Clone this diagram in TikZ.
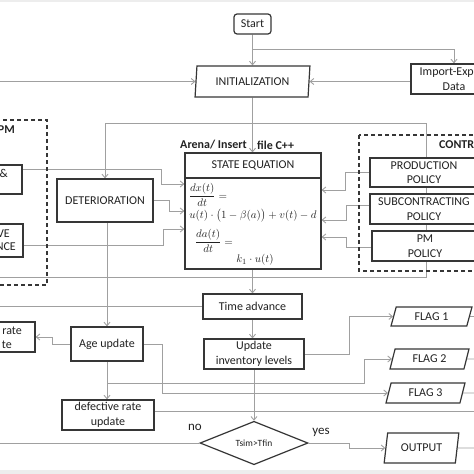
\documentclass[tikz,border=0pt]{standalone}
\usepackage{amsmath}
\usepackage{fontspec}
\setmainfont{Carlito}
\usetikzlibrary{shapes.geometric,arrows.meta}
\pgfdeclarelayer{bg}
\pgfsetlayers{bg,main}
\definecolor{boxc}{HTML}{363636}
\definecolor{linec}{HTML}{A0A0A0}
\definecolor{txtc}{HTML}{222222}
\definecolor{stripc}{HTML}{EDEDED}
\newcommand\fsA{\fontsize{12}{14.5}\selectfont}
\begin{document}
\begin{tikzpicture}[x=1pt,y=-1pt,
  bx/.style={draw=boxc, line width=1.2pt, fill=white, text=txtc, align=center, inner sep=0pt, font=\fsA},
  para/.style={bx, trapezium, trapezium stretches=true},
  txt/.style={text=txtc, inner sep=0pt, font=\fsA},
  btxt/.style={text=txtc, inner sep=0pt, font=\fsA\bfseries},
  eqf/.style={text=txtc, inner sep=0pt, font=\fontsize{10.5}{12}\selectfont},
  dbox/.style={draw=boxc, line width=1.2pt, dash pattern=on 4pt off 3pt},
  ln/.style={draw=linec, line width=0.9pt},
  arr/.style={ln, -{Straight Barb[length=3.5pt,width=6pt]}}]
\useasboundingbox (0,0) rectangle (474,474);
\clip (0,0) rectangle (474,474);
\fill[stripc] (0,0) rectangle (474,2);
\fill[stripc] (0,470) rectangle (474,474);

% dashed group boxes
\draw[dbox] (-10,120) rectangle (47,285);
\draw[dbox] (359,135) rectangle (490,271);
\node[btxt, anchor=east] (pmlab) at (15,130) {PM};
\node[btxt, anchor=west] (ctrllab) at (439,145) {CONTROL};

% top
\node[bx, rounded corners=3pt, minimum width=37pt, minimum height=20pt] (start) at (252.5,24) {Start};
\node[para, trapezium left angle=81, trapezium right angle=99, minimum width=115pt, minimum height=31pt] (init) at (252.5,81.5) {INITIALIZATION};
\node[bx, minimum width=86pt, minimum height=30pt] (imp) at (454,79) {Import-Export\\Data};

% left partial boxes
\node[bx, minimum width=80pt, minimum height=29pt] (pmA) at (-18,179.5) {};
\node[bx, minimum width=80pt, minimum height=33pt] (pmB) at (-17,240.5) {};
\node[bx, minimum width=80pt, minimum height=30pt] (ltb) at (-5,337) {};
\node[txt, anchor=east] (pmAt) at (8,173) {\&};
\node[txt, anchor=east] (pmBt1) at (10,234) {VE};
\node[txt, anchor=east] (pmBt2) at (16,247) {NCE};
\node[txt, anchor=east] (ltbt1) at (22,331) {rate};
\node[txt, anchor=east] (ltbt2) at (12,345) {te};

% middle
\node[bx, minimum width=96pt, minimum height=43pt] (det) at (105,200.5) {DETERIORATION};
\node[bx, minimum width=136pt, minimum height=116pt] (se) at (253,211) {};
\node[bx, minimum width=136pt, minimum height=25pt, anchor=north] (seT) at (se.north) {STATE EQUATION};
\node[btxt, anchor=east] (ar1) at (247,145) {Arena/ Insert};
\node[btxt, anchor=west] (ar2) at (257,145) {file C++};
\node[eqf] (eq1) at (208,195) {$\dfrac{dx(t)}{dt}=$};
\node[eqf, font=\fontsize{11}{12}\selectfont] (eq2) at (253,216) {$u(t)\cdot\bigl(1-\beta(a)\bigr)+v(t)-d$};
\node[eqf] (eq3) at (214,241) {$\dfrac{da(t)}{dt}=$};
\node[eqf, font=\fontsize{11}{12}\selectfont] (eq4) at (255,260) {$k_1\cdot u(t)$};

\node[bx, minimum width=108pt, minimum height=29pt] (prod) at (424,172.5) {PRODUCTION\\POLICY};
\node[bx, minimum width=108pt, minimum height=30pt] (sub) at (424,209) {SUBCONTRACTING\\POLICY};
\node[bx, minimum width=106pt, minimum height=30pt] (pmp) at (425,246) {PM\\POLICY};

% lower
\node[bx, minimum width=99pt, minimum height=25pt] (time) at (252.5,306.5) {Time advance};
\node[bx, minimum width=100pt, minimum height=30pt] (upd) at (254,354) {Update\\inventory levels};
\node[bx, minimum width=72pt, minimum height=34pt] (age) at (107,344) {Age update};
\node[bx, minimum width=92pt, minimum height=30pt] (defr) at (108,415) {defective rate\\update};
\node[bx, diamond, minimum width=108pt, minimum height=32pt, font=\fontsize{9.5}{11}\selectfont] (dia) at (254,443) {Tsim>Tfin};
\node[para, trapezium left angle=72.5, trapezium right angle=107.5, minimum width=81pt, minimum height=19pt] (flag1) at (431.5,316.5) {FLAG 1};
\node[para, trapezium left angle=72.5, trapezium right angle=107.5, minimum width=79pt, minimum height=20pt] (flag2) at (429.5,359) {FLAG 2};
\node[para, trapezium left angle=72.5, trapezium right angle=107.5, minimum width=79pt, minimum height=20pt] (flag3) at (425.5,393) {FLAG 3};
\node[para, trapezium left angle=75, trapezium right angle=105, minimum width=75pt, minimum height=30pt] (out) at (421.5,448) {OUTPUT};
\node[txt, font=\fontsize{13}{14}\selectfont] (lno) at (195,427) {no};
\node[txt, font=\fontsize{13}{14}\selectfont] (lyes) at (321,432) {yes};

% helper coordinates
\coordinate (b1) at (252.5,49);
\coordinate (Lin) at (-2,81.5);
\coordinate (Fb0) at (-2,277);
\coordinate (Tl) at (-2,306.5);
\coordinate (br) at (107,383);
\coordinate (No) at (-2,443);
\coordinate (De) at (480,411);
\coordinate (E1) at (480,316.5);
\coordinate (E2) at (480,359);
\coordinate (E3) at (480,393);
\coordinate (E4) at (480,448);

\begin{pgfonlayer}{bg}
\draw[arr] (start) -- (init);
\draw[arr] (b1) -| (imp.north);
\draw[arr] (imp.west |- init) -- (init);
\draw[arr] (Lin) -- (init);
\draw[arr] (init) -- (init |- se.north);
\draw[arr] (Fb0) -- (426,277) -- (426,123) -- (105,123) -- (det.north);
\draw[arr] ([yshift=10.5pt]pmA.east) -- (161,169) -- (161,184) -- ([yshift=27pt]se.west);
\draw[arr] (det.east) -- (169,200.5) -- (169,211) -- (se.west);
\draw[arr] ([yshift=-4.5pt]pmB.east) -- (163,245) -- (163,229) -- ([yshift=-18pt]se.west);
\draw[arr] (prod.west) -- (345,172.5) -- (345,190) -- ([yshift=21pt]se.east);
\draw[arr] ([yshift=4pt]sub.west) -- (346,205) -- (346,220) -- ([yshift=-9pt]se.east);
\draw[arr] ([yshift=-1pt]pmp.west) -- (346,247) -- (346,237) -- ([yshift=-26pt]se.east);
\draw[arr] (se.south -| time.north) -- (time.north);
\draw[arr] (time) -- (time |- upd.north);
\draw[arr] (upd) -- (dia);
\draw[arr] (upd.east) -- (349,354) |- (flag1);
\draw[ln] (time.west) -- (Tl);
\draw[arr] (det.south -| age.north) -- (age.north);
\draw[arr] (age.west) -- (52,344) -- (52,337) -- (ltb.east);
\draw[arr] (age.east) -- (162,344) |- (flag3);
\draw[arr] (age) -- (age |- defr.north);
\draw[arr] (br) -- (364,383) |- (flag2);
\draw[ln] ([yshift=4pt]defr.east) -- (De);
\draw[ln] (dia.west) -- (No);
\draw[arr] (dia.east) -- (349,443) |- (out);
\draw[ln] (flag1) -- (E1);
\draw[ln] (flag2) -- (E2);
\draw[ln] (flag3) -- (E3);
\draw[ln] (out) -- (E4);
\end{pgfonlayer}
\end{tikzpicture}
\end{document}
